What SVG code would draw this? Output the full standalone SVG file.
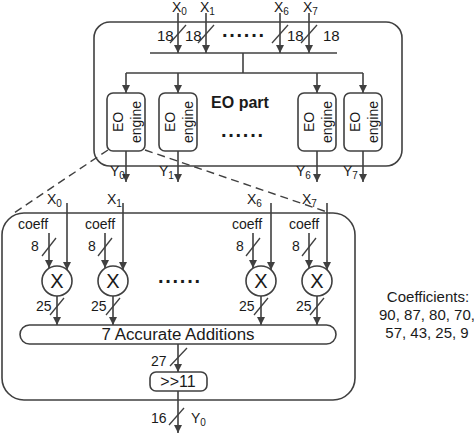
<svg xmlns="http://www.w3.org/2000/svg" width="474" height="434" viewBox="0 0 474 434">
<defs>
<marker id="ah" viewBox="0 0 10 10" markerWidth="9" markerHeight="8" refX="10" refY="5" orient="auto" markerUnits="userSpaceOnUse">
<path d="M0,0 L10,5 L0,10 z" fill="#404040"/>
</marker>
<style>
.box{fill:#fff;stroke:#404040;stroke-width:1.6}
.ln{stroke:#404040;stroke-width:1.6;fill:none}
.ar{stroke:#404040;stroke-width:1.6;fill:none;marker-end:url(#ah)}
.sl{stroke:#404040;stroke-width:1.3}
.ds{stroke:#404040;stroke-width:1.4;stroke-dasharray:8,5;fill:none}
text{font-family:"Liberation Sans",Arial,sans-serif;fill:#1a1a1a;font-size:14px}
.sub{font-size:10px}
.c{text-anchor:middle}
.dots{font-size:20px;font-weight:bold;text-anchor:middle}
.mx{font-size:20px;text-anchor:middle}
</style>
</defs>
<rect width="474" height="434" fill="#fff"/>

<g id="eo-part">
<rect class="box" x="94" y="22" width="308" height="144" rx="16"/>
<text x="240" y="108" class="c" style="font-weight:bold;font-size:16px">EO part</text>
<text x="242" y="137" class="dots" textLength="42" lengthAdjust="spacing">......</text>
<text x="243" y="37" class="dots" textLength="42" lengthAdjust="spacing">......</text>
</g>

<g id="eo-engine-0">
<rect class="box" x="107" y="93" width="38" height="58" rx="6"/>
<text transform="translate(123,122) rotate(-90)" class="c">EO</text>
<text transform="translate(141,122) rotate(-90)" class="c">engine</text>
</g>
<g id="eo-engine-1">
<rect class="box" x="159" y="93" width="38" height="58" rx="6"/>
<text transform="translate(175,122) rotate(-90)" class="c">EO</text>
<text transform="translate(193,122) rotate(-90)" class="c">engine</text>
</g>
<g id="eo-engine-6">
<rect class="box" x="298" y="93" width="38" height="58" rx="6"/>
<text transform="translate(314,122) rotate(-90)" class="c">EO</text>
<text transform="translate(332,122) rotate(-90)" class="c">engine</text>
</g>
<g id="eo-engine-7">
<rect class="box" x="344" y="93" width="38" height="58" rx="6"/>
<text transform="translate(360,122) rotate(-90)" class="c">EO</text>
<text transform="translate(378,122) rotate(-90)" class="c">engine</text>
</g>

<g id="mac-unit">
<rect class="box" x="2" y="213" width="353" height="187" rx="22"/>
<text x="179" y="283" class="dots" textLength="42" lengthAdjust="spacing">......</text>
</g>

<g id="mul-0"><circle class="box" cx="57" cy="281" r="15"/><text x="57" y="288" class="mx">X</text></g>
<g id="mul-1"><circle class="box" cx="113" cy="281" r="15"/><text x="113" y="288" class="mx">X</text></g>
<g id="mul-6"><circle class="box" cx="261" cy="281" r="15"/><text x="261" y="288" class="mx">X</text></g>
<g id="mul-7"><circle class="box" cx="317" cy="281" r="15"/><text x="317" y="288" class="mx">X</text></g>

<g id="adder">
<rect class="box" x="20" y="325" width="316" height="19" rx="9.5"/>
<text x="178" y="340" class="c" style="font-size:16px" textLength="153" lengthAdjust="spacingAndGlyphs">7 Accurate Additions</text>
</g>

<g id="shift">
<rect class="box" x="150" y="372" width="57" height="19" rx="6"/>
<text x="178" y="387" class="c" style="font-size:16px">&gt;&gt;11</text>
</g>

<g id="coefficients">
<text x="428" y="302" class="c" style="font-size:15px">Coefficients:</text>
<text x="427" y="320" class="c" style="font-size:15px">90, 87, 80, 70,</text>
<text x="427" y="338" class="c" style="font-size:15px">57, 43, 25, 9</text>
</g>

<g id="connectors">
<line class="ar" x1="178" y1="13" x2="178" y2="53"/>
<line class="ar" x1="206" y1="13" x2="206" y2="53"/>
<line class="ar" x1="280" y1="13" x2="280" y2="53"/>
<line class="ar" x1="309" y1="13" x2="309" y2="53"/>
<line class="sl" x1="170" y1="43" x2="186" y2="25"/>
<line class="sl" x1="198" y1="43" x2="214" y2="25"/>
<line class="sl" x1="272" y1="43" x2="288" y2="25"/>
<line class="sl" x1="301" y1="43" x2="317" y2="25"/>
<line class="ln" x1="150" y1="53" x2="337" y2="53"/>
<line class="ln" x1="243" y1="53" x2="243" y2="73"/>
<line class="ln" x1="126" y1="73" x2="363" y2="73"/>
<line class="ar" x1="126" y1="73" x2="126" y2="93"/>
<line class="ar" x1="178" y1="73" x2="178" y2="93"/>
<line class="ar" x1="317" y1="73" x2="317" y2="93"/>
<line class="ar" x1="363" y1="73" x2="363" y2="93"/>
<line class="ar" x1="126" y1="151" x2="126" y2="182"/>
<line class="ar" x1="178" y1="151" x2="178" y2="182"/>
<line class="ar" x1="317" y1="151" x2="317" y2="182"/>
<line class="ar" x1="363" y1="151" x2="363" y2="182"/>
<line class="ds" x1="108" y1="150" x2="14" y2="213"/>
<line class="ds" x1="145" y1="150" x2="330" y2="213"/>
<line class="ar" x1="67" y1="203" x2="67" y2="270"/>
<line class="ar" x1="123" y1="203" x2="123" y2="270"/>
<line class="ar" x1="271" y1="203" x2="271" y2="270"/>
<line class="ar" x1="327" y1="203" x2="327" y2="270"/>
<line class="ar" x1="49" y1="233" x2="49" y2="268"/>
<line class="ar" x1="105" y1="233" x2="105" y2="268"/>
<line class="ar" x1="253" y1="233" x2="253" y2="268"/>
<line class="ar" x1="309" y1="233" x2="309" y2="268"/>
<line class="sl" x1="42" y1="256" x2="56" y2="238"/>
<line class="sl" x1="98" y1="256" x2="112" y2="238"/>
<line class="sl" x1="246" y1="256" x2="260" y2="238"/>
<line class="sl" x1="302" y1="256" x2="316" y2="238"/>
<line class="ar" x1="57" y1="296" x2="57" y2="325"/>
<line class="ar" x1="113" y1="296" x2="113" y2="325"/>
<line class="ar" x1="261" y1="296" x2="261" y2="325"/>
<line class="ar" x1="317" y1="296" x2="317" y2="325"/>
<line class="sl" x1="50" y1="315" x2="64" y2="298"/>
<line class="sl" x1="106" y1="315" x2="120" y2="298"/>
<line class="sl" x1="254" y1="315" x2="268" y2="298"/>
<line class="sl" x1="310" y1="315" x2="324" y2="298"/>
<line class="ar" x1="178" y1="344" x2="178" y2="372"/>
<line class="sl" x1="170" y1="366" x2="187" y2="348"/>
<line class="ar" x1="178" y1="391" x2="178" y2="433"/>
<line class="sl" x1="169" y1="425" x2="184" y2="408"/>
</g>

<g id="labels">
<text x="172" y="12">X<tspan class="sub" dy="3">0</tspan></text>
<text x="200" y="12">X<tspan class="sub" dy="3">1</tspan></text>
<text x="274" y="12">X<tspan class="sub" dy="3">6</tspan></text>
<text x="303" y="12">X<tspan class="sub" dy="3">7</tspan></text>
<text x="157" y="41" style="font-size:15px">18</text>
<text x="185" y="41" style="font-size:15px">18</text>
<text x="287" y="41" style="font-size:15px">18</text>
<text x="323" y="41" style="font-size:15px">18</text>
<text x="110" y="176">Y<tspan class="sub" dy="3">0</tspan></text>
<text x="159" y="176">Y<tspan class="sub" dy="3">1</tspan></text>
<text x="296" y="176">Y<tspan class="sub" dy="3">6</tspan></text>
<text x="343" y="176">Y<tspan class="sub" dy="3">7</tspan></text>
<text x="47" y="204">X<tspan class="sub" dy="3">0</tspan></text>
<text x="107" y="204">X<tspan class="sub" dy="3">1</tspan></text>
<text x="247" y="204">X<tspan class="sub" dy="3">6</tspan></text>
<text x="302" y="204">X<tspan class="sub" dy="3">7</tspan></text>
<text x="33" y="229" class="c">coeff</text>
<text x="100" y="229" class="c">coeff</text>
<text x="247" y="229" class="c">coeff</text>
<text x="304" y="229" class="c">coeff</text>
<text x="31" y="251">8</text>
<text x="88" y="251">8</text>
<text x="236" y="251">8</text>
<text x="292" y="251">8</text>
<text x="36" y="311">25</text>
<text x="91" y="311">25</text>
<text x="239" y="311">25</text>
<text x="296" y="311">25</text>
<text x="151" y="366">27</text>
<text x="151" y="423">16</text>
<text x="191" y="423">Y<tspan class="sub" dy="3">0</tspan></text>
</g>
</svg>
